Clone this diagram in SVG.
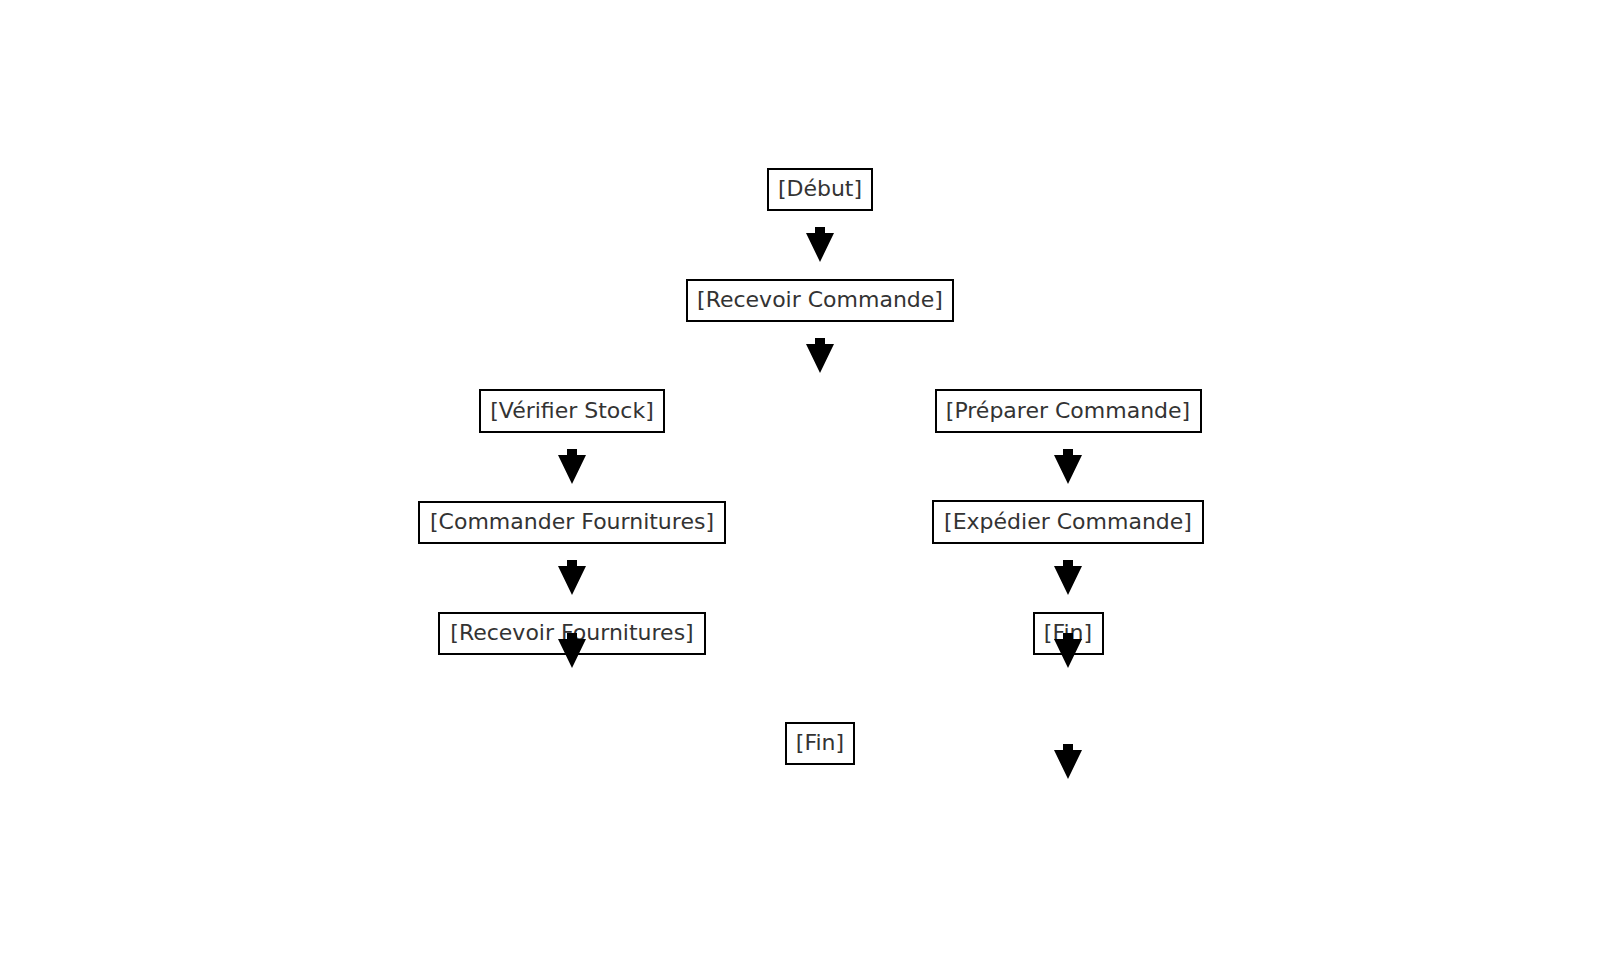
<svg xmlns="http://www.w3.org/2000/svg" xmlns:xlink="http://www.w3.org/1999/xlink" width="1600" height="960" viewBox="0 0 1600 960">
<style>
.box{fill:#ffffff;stroke:#000000;stroke-width:2}
.lbl{font-family:"DejaVu Sans",sans-serif;font-size:22px;fill:#333333;text-anchor:middle}
.arr{fill:#000000;stroke:none}
</style>
<defs>
<path id="arrow" d="M-5,0 H5 V6 H14 L0,35 L-14,6 H-5 Z"/>
</defs>
<rect width="1600" height="960" fill="#ffffff"/>
<g id="n_debut"><rect class="box" x="768" y="169" width="104" height="41"/><text class="lbl" x="820" y="196">[Début]</text></g>
<g id="n_recevoir_commande"><rect class="box" x="687" y="280" width="266" height="41"/><text class="lbl" x="820" y="307">[Recevoir Commande]</text></g>
<g id="n_verifier_stock"><rect class="box" x="480" y="390" width="184" height="42"/><text class="lbl" x="572" y="418">[Vérifier Stock]</text></g>
<g id="n_preparer_commande"><rect class="box" x="936" y="390" width="265" height="42"/><text class="lbl" x="1068" y="418">[Préparer Commande]</text></g>
<g id="n_commander_fournitures"><rect class="box" x="419" y="502" width="306" height="41"/><text class="lbl" x="572" y="529">[Commander Fournitures]</text></g>
<g id="n_expedier_commande"><rect class="box" x="933" y="501" width="270" height="42"/><text class="lbl" x="1068" y="529">[Expédier Commande]</text></g>
<g id="n_recevoir_fournitures"><rect class="box" x="439" y="613" width="266" height="41"/><text class="lbl" x="572" y="640">[Recevoir Fournitures]</text></g>
<g id="n_fin_right"><rect class="box" x="1034" y="613" width="69" height="41"/><text class="lbl" x="1068" y="640">[Fin]</text></g>
<g id="n_fin_mid"><rect class="box" x="786" y="723" width="68" height="41"/><text class="lbl" x="820" y="750">[Fin]</text></g>
<g id="connectors" class="arr">
<use xlink:href="#arrow" href="#arrow" transform="translate(820,227)"/>
<use xlink:href="#arrow" href="#arrow" transform="translate(820,338)"/>
<use xlink:href="#arrow" href="#arrow" transform="translate(572,449)"/>
<use xlink:href="#arrow" href="#arrow" transform="translate(572,560)"/>
<use xlink:href="#arrow" href="#arrow" transform="translate(572,633)"/>
<use xlink:href="#arrow" href="#arrow" transform="translate(1068,449)"/>
<use xlink:href="#arrow" href="#arrow" transform="translate(1068,560)"/>
<use xlink:href="#arrow" href="#arrow" transform="translate(1068,633)"/>
<use xlink:href="#arrow" href="#arrow" transform="translate(1068,744)"/>
</g>
</svg>
